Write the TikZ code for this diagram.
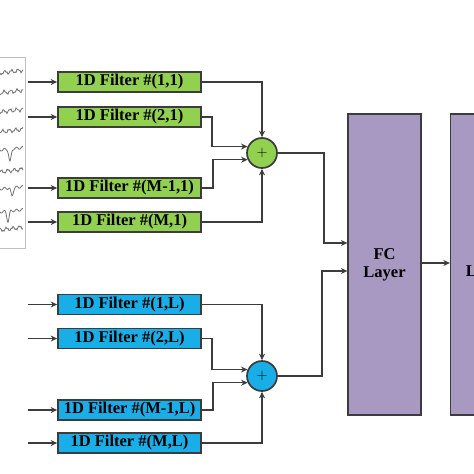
\documentclass[tikz,border=0pt]{standalone}
\usepackage{fontspec}
\setmainfont{Liberation Serif}
\usetikzlibrary{arrows.meta,calc}

\definecolor{filtgreen}{HTML}{92D050}
\definecolor{filtblue}{HTML}{1AAEE8}
\definecolor{fcpurple}{HTML}{A899C2}
\definecolor{edgegray}{HTML}{3C3C3C}
\definecolor{siggray}{HTML}{707070}

\begin{document}
\begin{tikzpicture}[
    x=1pt, y=-1pt,
    line width=1.5pt,
    every node/.style={font=\fontsize{16.5}{18}\selectfont\bfseries, text=black},
    filter/.style={draw=edgegray, line width=1.7pt, rectangle, minimum width=143pt, minimum height=20pt, inner sep=0pt},
    sumnode/.style={draw=edgegray, line width=1.7pt, circle, minimum size=30pt, inner sep=0pt, font=\fontsize{14}{14}\selectfont},
    layer/.style={draw=edgegray, line width=1.3pt, fill=fcpurple, rectangle, minimum width=73pt, minimum height=301pt, inner sep=0pt, align=center},
    conn/.style={draw=edgegray, -{Stealth[length=6.5pt,width=6pt]}},
    wire/.style={draw=edgegray},
    trace/.style={draw=siggray, line width=0.8pt}
  ]
  \useasboundingbox (0,0) rectangle (474,474);
  \clip (0,0) rectangle (474,474);

  %--------------------------------------
  % 1) Input signal panel (cut at left edge)
  %--------------------------------------
  \draw[draw=gray!50, line width=0.8pt] (-2,57) rectangle (25,248);
  \foreach \yy/\ph in {73/0, 93/40, 112/80, 132/120, 172/200, 230/280}{
    \draw[trace] plot[smooth, domain=0:23, samples=24]
      (\x, {\yy + 1.6*sin(\x*55+\ph) + 0.9*sin(\x*140+2*\ph) - 0.12*\x});
  }
  % traces with a spike
  \foreach \yy/\sx/\dd in {150/10/13, 189/12/8, 212/8/10}{
    \draw[trace] plot[smooth, domain=0:23, samples=47]
      (\x, {\yy + 1.2*sin(\x*60) + \dd*exp(-((\x-\sx)^2)/2.5) - 0.1*\x});
  }

  %--------------------------------------
  % 2) Filters of the first channel (green)
  %--------------------------------------
  \node[filter, fill=filtgreen] (f11)  at (129.5, 82)  {1D Filter \#(1,1)};
  \node[filter, fill=filtgreen] (f21)  at (129.5, 117) {1D Filter \#(2,1)};
  \node[filter, fill=filtgreen] (fm11) at (129.5, 188) {1D Filter \#(M-1,1)};
  \node[filter, fill=filtgreen] (fm1)  at (129.5, 222) {1D Filter \#(M,1)};

  \node[sumnode, fill=filtgreen] (s1) at (262, 153) {$+$};

  % inputs
  \foreach \n/\yy in {f11/82, f21/117, fm11/188, fm1/222}{
    \coordinate (in-\n) at (28, \yy);
    \draw[conn] (in-\n) -- (\n.west);
  }

  % filters -> sum
  \draw[conn] (f11.east) -| (s1.north);
  \draw[conn] (f21.east) -- ++(10,0) |- (s1.156);
  \draw[conn] (fm11.east) -- ++(11,0) |- (s1.205);
  \draw[conn] (fm1.east) -| (s1.south);

  %--------------------------------------
  % 3) Filters of the L-th channel (blue)
  %--------------------------------------
  \node[filter, fill=filtblue] (f1l)  at (129.5, 304.5) {1D Filter \#(1,L)};
  \node[filter, fill=filtblue] (f2l)  at (129.5, 338.5) {1D Filter \#(2,L)};
  \node[filter, fill=filtblue] (fm1l) at (129.5, 410)   {1D Filter \#(M-1,L)};
  \node[filter, fill=filtblue] (fml)  at (129.5, 443)   {1D Filter \#(M,L)};

  \node[sumnode, fill=filtblue] (sl) at (262, 376) {$+$};

  % inputs
  \foreach \n/\yy in {f1l/304.5, f2l/338.5, fm1l/410, fml/443}{
    \coordinate (in-\n) at (28, \yy);
    \draw[conn] (in-\n) -- (\n.west);
  }

  % filters -> sum
  \draw[conn] (f1l.east) -| (sl.north);
  \draw[conn] (f2l.east) -- ++(10,0) |- (sl.156);
  \draw[conn] (fm1l.east) -- ++(11,0) |- (sl.205);
  \draw[conn] (fml.east) -| (sl.south);

  %--------------------------------------
  % 4) Fully connected layers
  %--------------------------------------
  \node[layer] (fc) at (384.5, 264.5) {FC\\Layer};
  \node[layer] (nxt) at (487, 264.5) {};
  \node (nxttxt) at (487, 273) {Layer};

  % sums -> FC
  \coordinate (j1) at (324, 243);
  \coordinate (jl) at (322, 271);
  \draw[conn] (s1.east) -| (j1) -- (fc.west |- j1);
  \draw[conn] (sl.east) -| (jl) -- (fc.west |- jl);

  % FC -> next layer
  \draw[conn] (fc.east |- 0,263) -- (nxt.west |- 0,263);

\end{tikzpicture}
\end{document}
